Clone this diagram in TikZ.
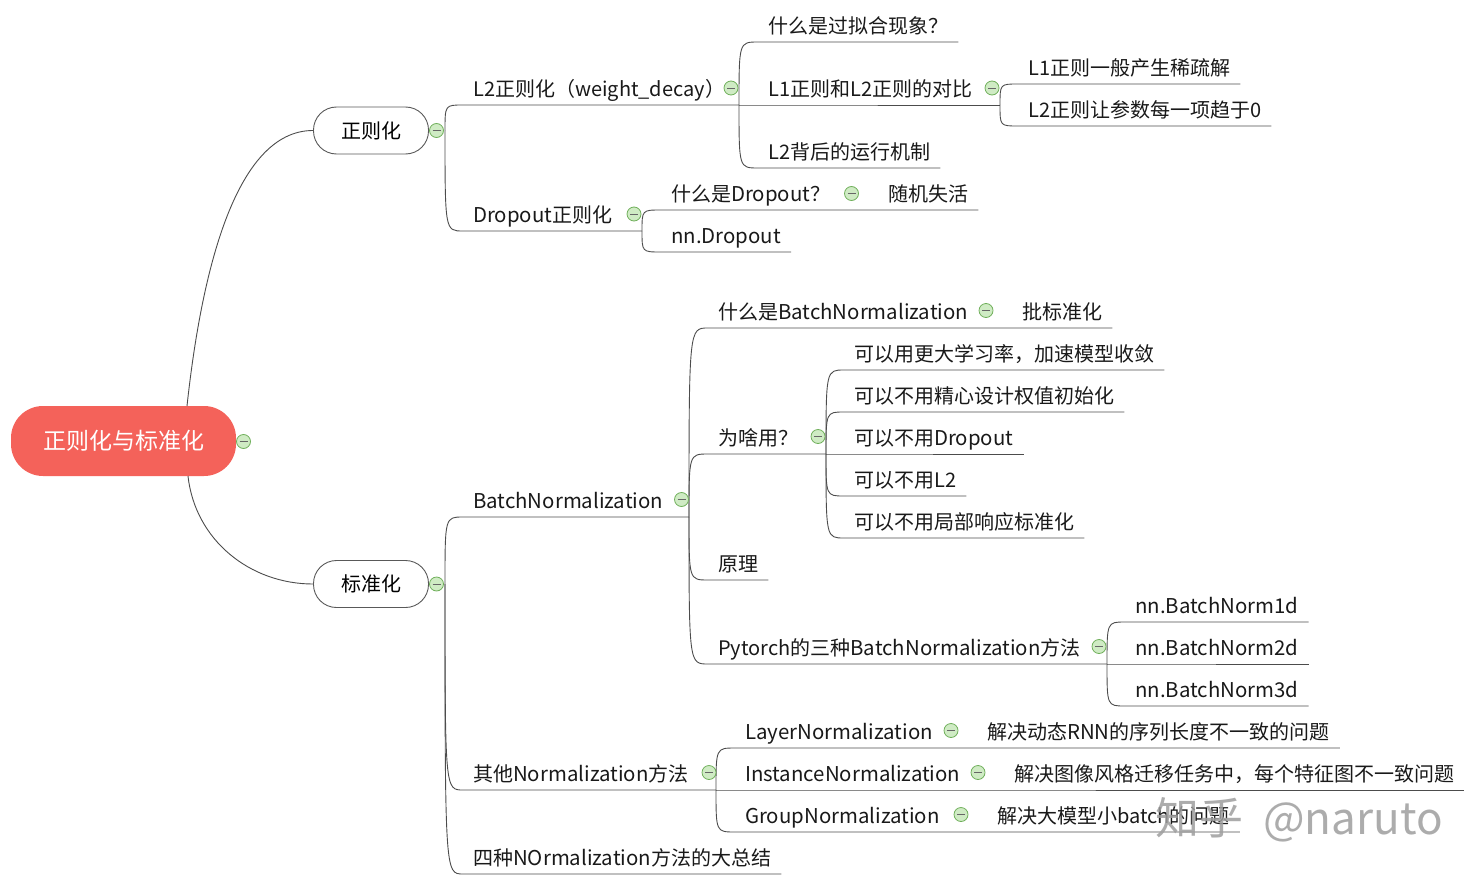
\documentclass[tikz,border=0pt]{standalone}
\usepackage{fontspec}
\setmainfont{Noto Sans CJK SC}
\newfontfamily\latfont[Scale=1.02]{Noto Sans CJK SC}
\definecolor{rootred}{HTML}{F4625A}
\definecolor{foldfill}{HTML}{CFEBC4}
\definecolor{foldline}{HTML}{6FAF5A}
\tikzset{
  wire/.style={draw=black!70,line width=0.9pt},
  twig/.style={wire,to path={.. controls (\tikztostart |- \tikztotarget) and (\tikztostart |- \tikztotarget) .. (\tikztotarget)}},
  topic/.style={anchor=south west,inner xsep=10pt,inner ysep=7pt,text height=19.5pt,text depth=1.5pt,text=black!90,font=\fontsize{20}{24}\selectfont},
  pill/.style={draw=black!65,line width=0.9pt,fill=white,rounded corners=23pt,minimum width=115pt,minimum height=47pt,inner sep=0pt,font=\fontsize{20}{24}\selectfont},
  foldicon/.style={circle,draw=foldline,fill=foldfill,line width=0.8pt,minimum size=14pt,inner sep=0pt,
    path picture={\draw[black!60,line width=0.7pt] ([xshift=-4pt]path picture bounding box.center) -- ([xshift=4pt]path picture bounding box.center);}}
}
\begin{document}
\begin{tikzpicture}[x=1pt,y=-1pt]
    \useasboundingbox (0,0) rectangle (1474,880);

    \node[fill=rootred,text=white,rounded corners=32pt,minimum width=225pt,minimum height=70pt,inner sep=0pt,font=\fontsize{23}{27}\selectfont] (root) at (123.5,441) {正则化与标准化};
    \node[pill] (zheng) at (371,130.5) {正则化};
    \node[pill] (biao) at (371,584) {标准化};

    \coordinate (rootT) at (187,406);
    \coordinate (rootB) at (188,476);
    \coordinate (brZheng) at (445,130.5);
    \coordinate (brBiao) at (445,584);
    \coordinate (brLii) at (739,105);
    \coordinate (brLi) at (1000,105);
    \coordinate (brDrop) at (642,231);
    \coordinate (brBatch) at (689,517);
    \coordinate (brWhy) at (826,454);
    \coordinate (brThree) at (1107,664);
    \coordinate (brOther) at (716,790);

    \node[topic] (lii) at (463,105) {L2正则化（weight\_decay）};
    \node[topic] (over) at (758,42) {什么是过拟合现象？};
    \node[topic] (cmp) at (758,105) {L1正则和L2正则的对比};
    \node[topic] (sparse) at (1018,84) {L1正则一般产生稀疏解};
    \node[topic] (zero) at (1018,126) {L2正则让参数每一项趋于0};
    \node[topic] (mech) at (758,168) {L2背后的运行机制};
    \node[topic] (drop) at (463,231) {{\latfont Dropout}正则化};
    \node[topic] (dropq) at (661,210) {什么是{\latfont Dropout}？};
    \node[topic] (dropa) at (878,210) {随机失活};
    \node[topic] (nndrop) at (661,252) {{\latfont nn.Dropout}};

    \node[topic] (batch) at (463,517) {{\latfont BatchNormalization}};
    \node[topic] (batchq) at (708,328) {什么是{\latfont BatchNormalization}};
    \node[topic] (batcha) at (1012,328) {批标准化};
    \node[topic] (why) at (708,454) {为啥用？};
    \node[topic] (lr) at (844,370) {可以用更大学习率，加速模型收敛};
    \node[topic] (init) at (844,412) {可以不用精心设计权值初始化};
    \node[topic] (nodrop) at (844,454) {可以不用{\latfont Dropout}};
    \node[topic] (nolii) at (844,496) {可以不用L2};
    \node[topic] (nolrn) at (844,538) {可以不用局部响应标准化};
    \node[topic] (theory) at (708,580) {原理};
    \node[topic] (three) at (708,664) {Pytorch的三种{\latfont BatchNormalization}方法};
    \node[topic] (bni) at (1125,622) {{\latfont nn.BatchNorm1d}};
    \node[topic] (bnii) at (1125,664) {{\latfont nn.BatchNorm2d}};
    \node[topic] (bniii) at (1125,706) {{\latfont nn.BatchNorm3d}};

    \node[topic] (other) at (463,790) {其他{\latfont Normalization}方法};
    \node[topic] (layer) at (735,748) {{\latfont LayerNormalization}};
    \node[topic] (layera) at (977,748) {解决动态{\latfont RNN}的序列长度不一致的问题};
    \node[topic] (inst) at (735,790) {{\latfont InstanceNormalization}};
    \node[topic] (insta) at (1004,790) {解决图像风格迁移任务中，每个特征图不一致问题};
    \node[topic] (group) at (735,832) {{\latfont GroupNormalization}};
    \node[topic] (groupa) at (987,832) {解决大模型小batch的问题};
    \node[topic] (sum) at (463,874) {四种{\latfont NOrmalization}方法的大总结};

    \draw[wire] (rootT) .. controls (205,240) and (245,130.5) .. (zheng.west);
    \draw[wire] (rootB) .. controls (195,540) and (250,584) .. (biao.west);

    \draw[twig] (brZheng) to (lii.south west) -- (brLii);
    \draw[twig] (brZheng) to (drop.south west) -- (brDrop);
    \draw[twig] (brLii) to (over.south west) -- (over.south east);
    \draw[twig] (brLii) to (cmp.south west) -- (brLi);
    \draw[twig] (brLii) to (mech.south west) -- (mech.south east);
    \draw[twig] (brLi) to (sparse.south west) -- (sparse.south east);
    \draw[twig] (brLi) to (zero.south west) -- (zero.south east);
    \draw[twig] (brDrop) to (dropq.south west) -- (dropa.south east);
    \draw[twig] (brDrop) to (nndrop.south west) -- (nndrop.south east);

    \draw[twig] (brBiao) to (batch.south west) -- (brBatch);
    \draw[twig] (brBiao) to (other.south west) -- (brOther);
    \draw[twig] (brBiao) to (sum.south west) -- (sum.south east);
    \draw[twig] (brBatch) to (batchq.south west) -- (batcha.south east);
    \draw[twig] (brBatch) to (why.south west) -- (brWhy);
    \draw[twig] (brBatch) to (theory.south west) -- (theory.south east);
    \draw[twig] (brBatch) to (three.south west) -- (brThree);
    \draw[twig] (brWhy) to (lr.south west) -- (lr.south east);
    \draw[twig] (brWhy) to (init.south west) -- (init.south east);
    \draw[twig] (brWhy) to (nodrop.south west) -- (nodrop.south east);
    \draw[twig] (brWhy) to (nolii.south west) -- (nolii.south east);
    \draw[twig] (brWhy) to (nolrn.south west) -- (nolrn.south east);
    \draw[twig] (brThree) to (bni.south west) -- (bni.south east);
    \draw[twig] (brThree) to (bnii.south west) -- (bnii.south east);
    \draw[twig] (brThree) to (bniii.south west) -- (bniii.south east);
    \draw[twig] (brOther) to (layer.south west) -- (layera.south east);
    \draw[twig] (brOther) to (inst.south west) -- (insta.south east);
    \draw[twig] (brOther) to (group.south west) -- (groupa.south east);

    \node[foldicon] (foldRoot) at (243.5,441.5) {};
    \node[foldicon] (foldZheng) at (436.5,130.5) {};
    \node[foldicon] (foldBiao) at (436.5,584) {};
    \node[foldicon] (foldLii) at (731,88) {};
    \node[foldicon] (foldCmp) at (992,88) {};
    \node[foldicon] (foldDrop) at (634,214) {};
    \node[foldicon] (foldDropq) at (851.5,193.5) {};
    \node[foldicon] (foldBatch) at (681.5,499.5) {};
    \node[foldicon] (foldBatchq) at (986,310.5) {};
    \node[foldicon] (foldWhy) at (818,436.5) {};
    \node[foldicon] (foldThree) at (1099,646.5) {};
    \node[foldicon] (foldOther) at (709,772.5) {};
    \node[foldicon] (foldLayer) at (951,730.5) {};
    \node[foldicon] (foldInst) at (978,772.5) {};
    \node[foldicon] (foldGroup) at (961,814.5) {};

    \node[text=black!38,opacity=0.85,anchor=west,inner sep=0pt,font=\fontsize{44}{50}\selectfont] (mark) at (1155,820) {知乎\hspace{20pt}@naruto};
  \end{tikzpicture}
\end{document}
